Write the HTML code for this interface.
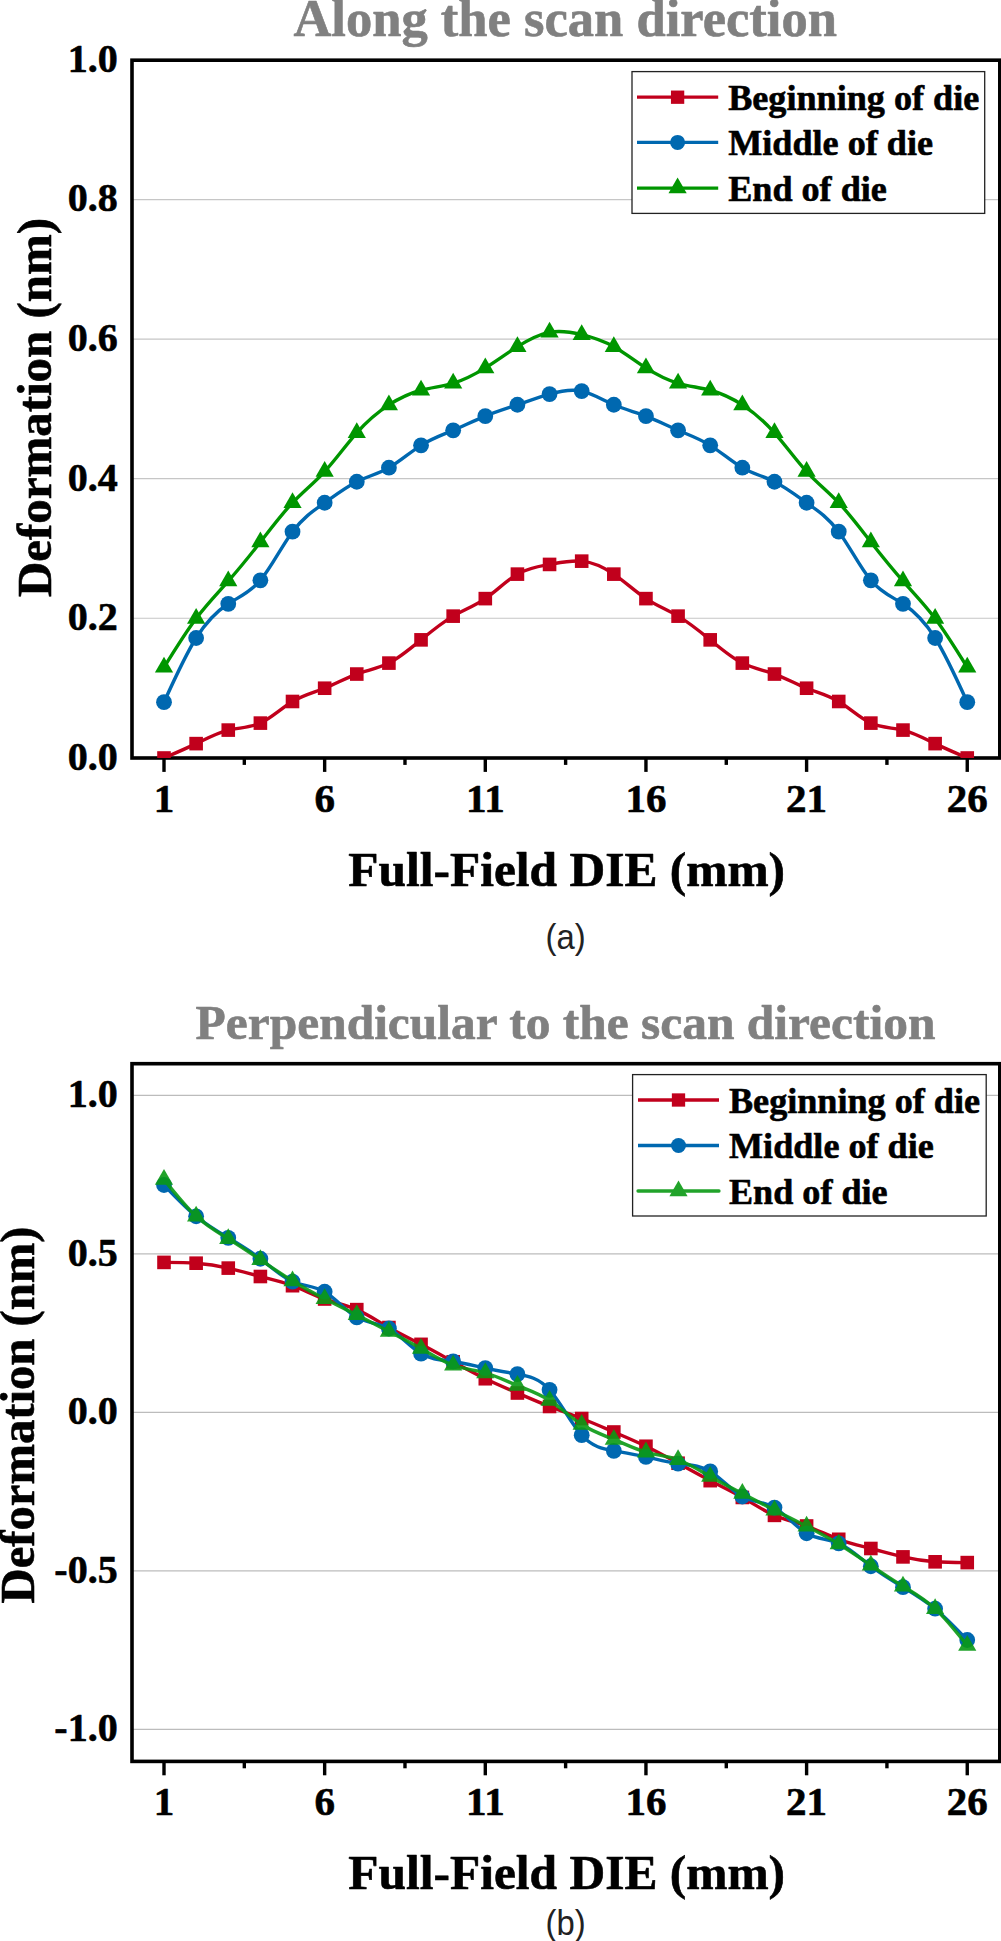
<!DOCTYPE html>
<html><head><meta charset="utf-8"><title>Deformation along and perpendicular to the scan direction</title>
<style>html,body{margin:0;padding:0;background:#fff}svg{display:block}text{white-space:pre}</style></head>
<body><svg width="1001" height="1941" viewBox="0 0 1001 1941">
<rect width="1001" height="1941" fill="#fff"/>
<clipPath id="clip1"><rect x="132.0" y="60.2" width="867.8" height="697.8"/></clipPath>
<text x="293.4" y="36.2" font-family="Liberation Serif, serif" font-weight="bold" stroke-width="0.6" stroke-linejoin="round" font-size="52.5" fill="#808080" stroke="#808080" textLength="543.5" lengthAdjust="spacingAndGlyphs">Along the scan direction</text>
<line x1="132.0" x2="999.8" y1="618.24" y2="618.24" stroke="#c6c6c6" stroke-width="1.15"/>
<line x1="132.0" x2="999.8" y1="478.68" y2="478.68" stroke="#c6c6c6" stroke-width="1.15"/>
<line x1="132.0" x2="999.8" y1="339.12" y2="339.12" stroke="#c6c6c6" stroke-width="1.15"/>
<line x1="132.0" x2="999.8" y1="199.56" y2="199.56" stroke="#c6c6c6" stroke-width="1.15"/>
<rect x="132.0" y="60.2" width="867.8" height="697.8" fill="none" stroke="#000" stroke-width="3.6"/>
<line x1="164.00" x2="164.00" y1="758.0" y2="771.9" stroke="#000" stroke-width="3.4"/>
<text x="164.00" y="811.9" font-family="Liberation Serif, serif" font-weight="bold" stroke-width="0.6" stroke-linejoin="round" font-size="41" stroke="#000" text-anchor="middle">1</text>
<line x1="324.65" x2="324.65" y1="758.0" y2="771.9" stroke="#000" stroke-width="3.4"/>
<text x="324.65" y="811.9" font-family="Liberation Serif, serif" font-weight="bold" stroke-width="0.6" stroke-linejoin="round" font-size="41" stroke="#000" text-anchor="middle">6</text>
<line x1="485.30" x2="485.30" y1="758.0" y2="771.9" stroke="#000" stroke-width="3.4"/>
<text x="485.30" y="811.9" font-family="Liberation Serif, serif" font-weight="bold" stroke-width="0.6" stroke-linejoin="round" font-size="41" stroke="#000" text-anchor="middle">11</text>
<line x1="645.95" x2="645.95" y1="758.0" y2="771.9" stroke="#000" stroke-width="3.4"/>
<text x="645.95" y="811.9" font-family="Liberation Serif, serif" font-weight="bold" stroke-width="0.6" stroke-linejoin="round" font-size="41" stroke="#000" text-anchor="middle">16</text>
<line x1="806.60" x2="806.60" y1="758.0" y2="771.9" stroke="#000" stroke-width="3.4"/>
<text x="806.60" y="811.9" font-family="Liberation Serif, serif" font-weight="bold" stroke-width="0.6" stroke-linejoin="round" font-size="41" stroke="#000" text-anchor="middle">21</text>
<line x1="967.25" x2="967.25" y1="758.0" y2="771.9" stroke="#000" stroke-width="3.4"/>
<text x="967.25" y="811.9" font-family="Liberation Serif, serif" font-weight="bold" stroke-width="0.6" stroke-linejoin="round" font-size="41" stroke="#000" text-anchor="middle">26</text>
<line x1="244.32" x2="244.32" y1="758.0" y2="764.9" stroke="#000" stroke-width="3.4"/>
<line x1="404.98" x2="404.98" y1="758.0" y2="764.9" stroke="#000" stroke-width="3.4"/>
<line x1="565.62" x2="565.62" y1="758.0" y2="764.9" stroke="#000" stroke-width="3.4"/>
<line x1="726.28" x2="726.28" y1="758.0" y2="764.9" stroke="#000" stroke-width="3.4"/>
<line x1="886.93" x2="886.93" y1="758.0" y2="764.9" stroke="#000" stroke-width="3.4"/>
<text x="117.7" y="769.6" font-family="Liberation Serif, serif" font-weight="bold" stroke-width="0.6" stroke-linejoin="round" font-size="40" stroke="#000" text-anchor="end">0.0</text>
<text x="117.7" y="630.0" font-family="Liberation Serif, serif" font-weight="bold" stroke-width="0.6" stroke-linejoin="round" font-size="40" stroke="#000" text-anchor="end">0.2</text>
<text x="117.7" y="490.5" font-family="Liberation Serif, serif" font-weight="bold" stroke-width="0.6" stroke-linejoin="round" font-size="40" stroke="#000" text-anchor="end">0.4</text>
<text x="117.7" y="350.9" font-family="Liberation Serif, serif" font-weight="bold" stroke-width="0.6" stroke-linejoin="round" font-size="40" stroke="#000" text-anchor="end">0.6</text>
<text x="117.7" y="211.4" font-family="Liberation Serif, serif" font-weight="bold" stroke-width="0.6" stroke-linejoin="round" font-size="40" stroke="#000" text-anchor="end">0.8</text>
<text x="117.7" y="71.8" font-family="Liberation Serif, serif" font-weight="bold" stroke-width="0.6" stroke-linejoin="round" font-size="40" stroke="#000" text-anchor="end">1.0</text>
<text transform="translate(50.5,597.0) rotate(-90)" font-family="Liberation Serif, serif" font-weight="bold" stroke-width="0.6" stroke-linejoin="round" font-size="48.5" stroke="#000" textLength="379.0" lengthAdjust="spacingAndGlyphs">Deformation (nm)</text>
<text x="348.3" y="885.8" font-family="Liberation Serif, serif" font-weight="bold" stroke-width="0.6" stroke-linejoin="round" font-size="48.5" stroke="#000" textLength="436.8" lengthAdjust="spacingAndGlyphs">Full-Field DIE (mm)</text>
<g clip-path="url(#clip1)">
<g fill="#c1001c" stroke="none"><path d="M164.00,758.00C174.71,753.40 185.42,748.80 196.13,743.63C206.84,738.45 217.55,732.70 228.26,730.09C238.97,727.48 249.68,728.00 260.39,723.11C271.10,718.22 281.81,707.91 292.52,701.48C303.23,695.05 313.94,692.50 324.65,688.22C335.36,683.94 346.07,677.92 356.78,674.05C367.49,670.19 378.20,668.47 388.91,663.10C399.62,657.73 410.33,648.70 421.04,639.86C431.75,631.03 442.46,622.39 453.17,616.14C463.88,609.88 474.59,606.01 485.30,598.62C496.01,591.24 506.72,580.34 517.43,574.13C528.14,567.92 538.85,566.39 549.56,564.43C560.27,562.47 570.98,560.07 581.69,561.15C592.40,562.23 603.11,566.80 613.82,574.13C624.53,581.45 635.24,591.54 645.95,598.62C656.66,605.71 667.37,609.80 678.08,616.14C688.79,622.47 699.50,631.05 710.21,639.86C720.92,648.67 731.63,657.72 742.34,663.10C753.05,668.48 763.76,670.19 774.47,674.05C785.18,677.92 795.89,683.94 806.60,688.22C817.31,692.50 828.02,695.05 838.73,701.48C849.44,707.91 860.15,718.22 870.86,723.11C881.57,728.00 892.28,727.48 902.99,730.09C913.70,732.70 924.41,738.45 935.12,743.63C945.83,748.80 956.54,753.40 967.25,758.00" fill="none" stroke="#c1001c" stroke-width="3.4" stroke-linejoin="round"/><rect x="157.20" y="751.20" width="13.6" height="13.6"/><rect x="189.33" y="736.83" width="13.6" height="13.6"/><rect x="221.46" y="723.29" width="13.6" height="13.6"/><rect x="253.59" y="716.31" width="13.6" height="13.6"/><rect x="285.72" y="694.68" width="13.6" height="13.6"/><rect x="317.85" y="681.42" width="13.6" height="13.6"/><rect x="349.98" y="667.25" width="13.6" height="13.6"/><rect x="382.11" y="656.30" width="13.6" height="13.6"/><rect x="414.24" y="633.06" width="13.6" height="13.6"/><rect x="446.37" y="609.34" width="13.6" height="13.6"/><rect x="478.50" y="591.82" width="13.6" height="13.6"/><rect x="510.63" y="567.33" width="13.6" height="13.6"/><rect x="542.76" y="557.63" width="13.6" height="13.6"/><rect x="574.89" y="554.35" width="13.6" height="13.6"/><rect x="607.02" y="567.33" width="13.6" height="13.6"/><rect x="639.15" y="591.82" width="13.6" height="13.6"/><rect x="671.28" y="609.34" width="13.6" height="13.6"/><rect x="703.41" y="633.06" width="13.6" height="13.6"/><rect x="735.54" y="656.30" width="13.6" height="13.6"/><rect x="767.67" y="667.25" width="13.6" height="13.6"/><rect x="799.80" y="681.42" width="13.6" height="13.6"/><rect x="831.93" y="694.68" width="13.6" height="13.6"/><rect x="864.06" y="716.31" width="13.6" height="13.6"/><rect x="896.19" y="723.29" width="13.6" height="13.6"/><rect x="928.32" y="736.83" width="13.6" height="13.6"/><rect x="960.45" y="751.20" width="13.6" height="13.6"/></g>
<g fill="#0068b0" stroke="none"><path d="M164.00,702.18C174.71,678.55 185.42,654.92 196.13,637.98C206.84,621.04 217.55,610.79 228.26,603.79C238.97,596.78 249.68,593.03 260.39,580.34C271.10,567.65 281.81,546.04 292.52,531.70C303.23,517.37 313.94,510.32 324.65,502.74C335.36,495.17 346.07,487.08 356.78,481.74C367.49,476.40 378.20,473.81 388.91,467.72C399.62,461.62 410.33,452.00 421.04,445.32C431.75,438.63 442.46,434.87 453.17,430.31C463.88,425.76 474.59,420.41 485.30,416.08C496.01,411.74 506.72,408.42 517.43,404.77C528.14,401.13 538.85,397.17 549.56,394.10C560.27,391.02 570.98,388.82 581.69,391.10C592.40,393.37 603.11,400.11 613.82,404.77C624.53,409.43 635.24,412.02 645.95,416.08C656.66,420.14 667.37,425.69 678.08,430.31C688.79,434.94 699.50,438.65 710.21,445.32C720.92,451.98 731.63,461.61 742.34,467.72C753.05,473.82 763.76,476.40 774.47,481.74C785.18,487.08 795.89,495.17 806.60,502.74C817.31,510.32 828.02,517.37 838.73,531.70C849.44,546.04 860.15,567.65 870.86,580.34C881.57,593.03 892.28,596.78 902.99,603.79C913.70,610.79 924.41,621.04 935.12,637.98C945.83,654.92 956.54,678.55 967.25,702.18" fill="none" stroke="#0068b0" stroke-width="3.4" stroke-linejoin="round"/><circle cx="164.00" cy="702.18" r="7.9"/><circle cx="196.13" cy="637.98" r="7.9"/><circle cx="228.26" cy="603.79" r="7.9"/><circle cx="260.39" cy="580.34" r="7.9"/><circle cx="292.52" cy="531.70" r="7.9"/><circle cx="324.65" cy="502.74" r="7.9"/><circle cx="356.78" cy="481.74" r="7.9"/><circle cx="388.91" cy="467.72" r="7.9"/><circle cx="421.04" cy="445.32" r="7.9"/><circle cx="453.17" cy="430.31" r="7.9"/><circle cx="485.30" cy="416.08" r="7.9"/><circle cx="517.43" cy="404.77" r="7.9"/><circle cx="549.56" cy="394.10" r="7.9"/><circle cx="581.69" cy="391.10" r="7.9"/><circle cx="613.82" cy="404.77" r="7.9"/><circle cx="645.95" cy="416.08" r="7.9"/><circle cx="678.08" cy="430.31" r="7.9"/><circle cx="710.21" cy="445.32" r="7.9"/><circle cx="742.34" cy="467.72" r="7.9"/><circle cx="774.47" cy="481.74" r="7.9"/><circle cx="806.60" cy="502.74" r="7.9"/><circle cx="838.73" cy="531.70" r="7.9"/><circle cx="870.86" cy="580.34" r="7.9"/><circle cx="902.99" cy="603.79" r="7.9"/><circle cx="935.12" cy="637.98" r="7.9"/><circle cx="967.25" cy="702.18" r="7.9"/></g>
<g fill="#009600" stroke="none"><path d="M164.00,667.29C174.71,649.95 185.42,632.62 196.13,618.44C206.84,604.26 217.55,593.23 228.26,581.11C238.97,568.99 249.68,555.77 260.39,542.03C271.10,528.29 281.81,514.01 292.52,502.74C303.23,491.48 313.94,483.21 324.65,471.55C335.36,459.89 346.07,444.84 356.78,432.83C367.49,420.81 378.20,411.83 388.91,404.91C399.62,398.00 410.33,393.14 421.04,390.26C431.75,387.38 442.46,386.47 453.17,383.28C463.88,380.09 474.59,374.61 485.30,367.93C496.01,361.25 506.72,353.38 517.43,346.65C528.14,339.91 538.85,334.30 549.56,332.34C560.27,330.38 570.98,332.07 581.69,334.64C592.40,337.22 603.11,340.69 613.82,346.65C624.53,352.60 635.24,361.04 645.95,367.93C656.66,374.82 667.37,380.14 678.08,383.28C688.79,386.42 699.50,387.36 710.21,390.26C720.92,393.15 731.63,398.00 742.34,404.91C753.05,411.83 763.76,420.81 774.47,432.83C785.18,444.84 795.89,459.89 806.60,471.55C817.31,483.21 828.02,491.48 838.73,502.74C849.44,514.01 860.15,528.29 870.86,542.03C881.57,555.77 892.28,568.99 902.99,581.11C913.70,593.23 924.41,604.26 935.12,618.44C945.83,632.62 956.54,649.95 967.25,667.29" fill="none" stroke="#009600" stroke-width="3.4" stroke-linejoin="round"/><path d="M164.00,656.78L173.10,672.54L154.90,672.54Z"/><path d="M196.13,607.93L205.23,623.69L187.03,623.69Z"/><path d="M228.26,570.60L237.36,586.36L219.16,586.36Z"/><path d="M260.39,531.52L269.49,547.28L251.29,547.28Z"/><path d="M292.52,492.24L301.62,508.00L283.42,508.00Z"/><path d="M324.65,461.05L333.75,476.81L315.55,476.81Z"/><path d="M356.78,422.32L365.88,438.08L347.68,438.08Z"/><path d="M388.91,394.41L398.01,410.17L379.81,410.17Z"/><path d="M421.04,379.75L430.14,395.51L411.94,395.51Z"/><path d="M453.17,372.77L462.27,388.54L444.07,388.54Z"/><path d="M485.30,357.42L494.40,373.18L476.20,373.18Z"/><path d="M517.43,336.14L526.53,351.90L508.33,351.90Z"/><path d="M549.56,321.83L558.66,337.60L540.46,337.60Z"/><path d="M581.69,324.14L590.79,339.90L572.59,339.90Z"/><path d="M613.82,336.14L622.92,351.90L604.72,351.90Z"/><path d="M645.95,357.42L655.05,373.18L636.85,373.18Z"/><path d="M678.08,372.77L687.18,388.54L668.98,388.54Z"/><path d="M710.21,379.75L719.31,395.51L701.11,395.51Z"/><path d="M742.34,394.41L751.44,410.17L733.24,410.17Z"/><path d="M774.47,422.32L783.57,438.08L765.37,438.08Z"/><path d="M806.60,461.05L815.70,476.81L797.50,476.81Z"/><path d="M838.73,492.24L847.83,508.00L829.63,508.00Z"/><path d="M870.86,531.52L879.96,547.28L861.76,547.28Z"/><path d="M902.99,570.60L912.09,586.36L893.89,586.36Z"/><path d="M935.12,607.93L944.22,623.69L926.02,623.69Z"/><path d="M967.25,656.78L976.35,672.54L958.15,672.54Z"/></g>
</g>
<rect x="632.0" y="71.6" width="352.70000000000005" height="141.8" fill="#fff" stroke="#222" stroke-width="1.3"/>
<g fill="#c1001c"><line x1="637.0" x2="718.2" y1="97.2" y2="97.2" stroke="#c1001c" stroke-width="3.3"/><rect x="670.95" y="90.55" width="13.3" height="13.3"/></g>
<text x="728.2" y="109.5" font-family="Liberation Serif, serif" font-weight="bold" stroke-width="0.6" stroke-linejoin="round" font-size="36.15" stroke="#000">Beginning of die</text>
<g fill="#0068b0"><line x1="637.0" x2="718.2" y1="142.4" y2="142.4" stroke="#0068b0" stroke-width="3.3"/><circle cx="677.60" cy="142.40" r="7.5"/></g>
<text x="728.2" y="155.0" font-family="Liberation Serif, serif" font-weight="bold" stroke-width="0.6" stroke-linejoin="round" font-size="36.15" stroke="#000">Middle of die</text>
<g fill="#009600"><line x1="637.0" x2="718.2" y1="188.1" y2="188.1" stroke="#009600" stroke-width="3.3"/><path d="M677.60,177.59L686.70,193.35L668.50,193.35Z"/></g>
<text x="728.2" y="200.6" font-family="Liberation Serif, serif" font-weight="bold" stroke-width="0.6" stroke-linejoin="round" font-size="36.15" stroke="#000">End of die</text>
<text x="545.6" y="948.6" font-family="Liberation Sans, sans-serif" font-size="34.8" fill="#222" textLength="40.1" lengthAdjust="spacingAndGlyphs">(a)</text>
<clipPath id="clip2"><rect x="132.0" y="1063.7" width="867.8" height="697.7"/></clipPath>
<text x="195.6" y="1039.2" font-family="Liberation Serif, serif" font-weight="bold" stroke-width="0.6" stroke-linejoin="round" font-size="47.5" fill="#808080" stroke="#808080" textLength="739.8" lengthAdjust="spacingAndGlyphs">Perpendicular to the scan direction</text>
<line x1="132.0" x2="999.8" y1="1729.40" y2="1729.40" stroke="#bcbcbc" stroke-width="1.2"/>
<line x1="132.0" x2="999.8" y1="1570.90" y2="1570.90" stroke="#bcbcbc" stroke-width="1.2"/>
<line x1="132.0" x2="999.8" y1="1412.40" y2="1412.40" stroke="#bcbcbc" stroke-width="1.2"/>
<line x1="132.0" x2="999.8" y1="1253.90" y2="1253.90" stroke="#bcbcbc" stroke-width="1.2"/>
<line x1="132.0" x2="999.8" y1="1095.40" y2="1095.40" stroke="#bcbcbc" stroke-width="1.2"/>
<rect x="132.0" y="1063.7" width="867.8" height="697.7" fill="none" stroke="#000" stroke-width="3.6"/>
<line x1="164.00" x2="164.00" y1="1761.4" y2="1775.3000000000002" stroke="#000" stroke-width="3.4"/>
<text x="164.00" y="1815.3" font-family="Liberation Serif, serif" font-weight="bold" stroke-width="0.6" stroke-linejoin="round" font-size="41" stroke="#000" text-anchor="middle">1</text>
<line x1="324.65" x2="324.65" y1="1761.4" y2="1775.3000000000002" stroke="#000" stroke-width="3.4"/>
<text x="324.65" y="1815.3" font-family="Liberation Serif, serif" font-weight="bold" stroke-width="0.6" stroke-linejoin="round" font-size="41" stroke="#000" text-anchor="middle">6</text>
<line x1="485.30" x2="485.30" y1="1761.4" y2="1775.3000000000002" stroke="#000" stroke-width="3.4"/>
<text x="485.30" y="1815.3" font-family="Liberation Serif, serif" font-weight="bold" stroke-width="0.6" stroke-linejoin="round" font-size="41" stroke="#000" text-anchor="middle">11</text>
<line x1="645.95" x2="645.95" y1="1761.4" y2="1775.3000000000002" stroke="#000" stroke-width="3.4"/>
<text x="645.95" y="1815.3" font-family="Liberation Serif, serif" font-weight="bold" stroke-width="0.6" stroke-linejoin="round" font-size="41" stroke="#000" text-anchor="middle">16</text>
<line x1="806.60" x2="806.60" y1="1761.4" y2="1775.3000000000002" stroke="#000" stroke-width="3.4"/>
<text x="806.60" y="1815.3" font-family="Liberation Serif, serif" font-weight="bold" stroke-width="0.6" stroke-linejoin="round" font-size="41" stroke="#000" text-anchor="middle">21</text>
<line x1="967.25" x2="967.25" y1="1761.4" y2="1775.3000000000002" stroke="#000" stroke-width="3.4"/>
<text x="967.25" y="1815.3" font-family="Liberation Serif, serif" font-weight="bold" stroke-width="0.6" stroke-linejoin="round" font-size="41" stroke="#000" text-anchor="middle">26</text>
<line x1="244.32" x2="244.32" y1="1761.4" y2="1768.3000000000002" stroke="#000" stroke-width="3.4"/>
<line x1="404.98" x2="404.98" y1="1761.4" y2="1768.3000000000002" stroke="#000" stroke-width="3.4"/>
<line x1="565.62" x2="565.62" y1="1761.4" y2="1768.3000000000002" stroke="#000" stroke-width="3.4"/>
<line x1="726.28" x2="726.28" y1="1761.4" y2="1768.3000000000002" stroke="#000" stroke-width="3.4"/>
<line x1="886.93" x2="886.93" y1="1761.4" y2="1768.3000000000002" stroke="#000" stroke-width="3.4"/>
<text x="117.7" y="1741.1" font-family="Liberation Serif, serif" font-weight="bold" stroke-width="0.6" stroke-linejoin="round" font-size="40" stroke="#000" text-anchor="end">-1.0</text>
<text x="117.7" y="1582.6" font-family="Liberation Serif, serif" font-weight="bold" stroke-width="0.6" stroke-linejoin="round" font-size="40" stroke="#000" text-anchor="end">-0.5</text>
<text x="117.7" y="1424.1" font-family="Liberation Serif, serif" font-weight="bold" stroke-width="0.6" stroke-linejoin="round" font-size="40" stroke="#000" text-anchor="end">0.0</text>
<text x="117.7" y="1265.6" font-family="Liberation Serif, serif" font-weight="bold" stroke-width="0.6" stroke-linejoin="round" font-size="40" stroke="#000" text-anchor="end">0.5</text>
<text x="117.7" y="1107.1" font-family="Liberation Serif, serif" font-weight="bold" stroke-width="0.6" stroke-linejoin="round" font-size="40" stroke="#000" text-anchor="end">1.0</text>
<text transform="translate(34.4,1603.4) rotate(-90)" font-family="Liberation Serif, serif" font-weight="bold" stroke-width="0.6" stroke-linejoin="round" font-size="48.5" stroke="#000" textLength="376.8" lengthAdjust="spacingAndGlyphs">Deformation (nm)</text>
<text x="348.3" y="1889.2" font-family="Liberation Serif, serif" font-weight="bold" stroke-width="0.6" stroke-linejoin="round" font-size="48.5" stroke="#000" textLength="436.8" lengthAdjust="spacingAndGlyphs">Full-Field DIE (mm)</text>
<g clip-path="url(#clip2)">
<g fill="#c1001c" stroke="none"><path d="M164.00,1262.40C174.71,1262.38 185.42,1262.37 196.13,1263.19C206.84,1264.02 217.55,1265.68 228.26,1268.11C238.97,1270.53 249.68,1273.71 260.39,1276.51C271.10,1279.31 281.81,1281.73 292.52,1285.70C303.23,1289.67 313.94,1295.18 324.65,1299.01C335.36,1302.84 346.07,1304.99 356.78,1309.63C367.49,1314.28 378.20,1321.41 388.91,1327.54C399.62,1333.67 410.33,1338.80 421.04,1344.35C431.75,1349.89 442.46,1355.86 453.17,1361.78C463.88,1367.70 474.59,1373.56 485.30,1378.74C496.01,1383.92 506.72,1388.41 517.43,1393.00C528.14,1397.60 538.85,1402.29 549.56,1406.48C560.27,1410.66 570.98,1414.34 581.69,1418.52C592.40,1422.71 603.11,1427.40 613.82,1432.00C624.53,1436.59 635.24,1441.08 645.95,1446.26C656.66,1451.44 667.37,1457.30 678.08,1463.22C688.79,1469.14 699.50,1475.11 710.21,1480.65C720.92,1486.20 731.63,1491.33 742.34,1497.46C753.05,1503.59 763.76,1510.72 774.47,1515.37C785.18,1520.01 795.89,1522.16 806.60,1525.99C817.31,1529.82 828.02,1535.33 838.73,1539.30C849.44,1543.27 860.15,1545.69 870.86,1548.49C881.57,1551.29 892.28,1554.47 902.99,1556.89C913.70,1559.32 924.41,1560.98 935.12,1561.81C945.83,1562.63 956.54,1562.62 967.25,1562.60" fill="none" stroke="#c1001c" stroke-width="3.4" stroke-linejoin="round"/><rect x="157.20" y="1255.60" width="13.6" height="13.6"/><rect x="189.33" y="1256.39" width="13.6" height="13.6"/><rect x="221.46" y="1261.31" width="13.6" height="13.6"/><rect x="253.59" y="1269.71" width="13.6" height="13.6"/><rect x="285.72" y="1278.90" width="13.6" height="13.6"/><rect x="317.85" y="1292.21" width="13.6" height="13.6"/><rect x="349.98" y="1302.83" width="13.6" height="13.6"/><rect x="382.11" y="1320.74" width="13.6" height="13.6"/><rect x="414.24" y="1337.55" width="13.6" height="13.6"/><rect x="446.37" y="1354.98" width="13.6" height="13.6"/><rect x="478.50" y="1371.94" width="13.6" height="13.6"/><rect x="510.63" y="1386.20" width="13.6" height="13.6"/><rect x="542.76" y="1399.68" width="13.6" height="13.6"/><rect x="574.89" y="1411.72" width="13.6" height="13.6"/><rect x="607.02" y="1425.20" width="13.6" height="13.6"/><rect x="639.15" y="1439.46" width="13.6" height="13.6"/><rect x="671.28" y="1456.42" width="13.6" height="13.6"/><rect x="703.41" y="1473.86" width="13.6" height="13.6"/><rect x="735.54" y="1490.66" width="13.6" height="13.6"/><rect x="767.67" y="1508.57" width="13.6" height="13.6"/><rect x="799.80" y="1519.19" width="13.6" height="13.6"/><rect x="831.93" y="1532.50" width="13.6" height="13.6"/><rect x="864.06" y="1541.69" width="13.6" height="13.6"/><rect x="896.19" y="1550.09" width="13.6" height="13.6"/><rect x="928.32" y="1555.01" width="13.6" height="13.6"/><rect x="960.45" y="1555.80" width="13.6" height="13.6"/></g>
<g fill="#0068b0" stroke="none"><path d="M164.00,1184.99C174.71,1196.23 185.42,1207.47 196.13,1216.28C206.84,1225.09 217.55,1231.46 228.26,1237.83C238.97,1244.20 249.68,1250.57 260.39,1258.76C271.10,1266.94 281.81,1276.95 292.52,1281.58C303.23,1286.21 313.94,1285.46 324.65,1291.72C335.36,1297.98 346.07,1311.25 356.78,1317.40C367.49,1323.55 378.20,1322.60 388.91,1328.49C399.62,1334.39 410.33,1347.14 421.04,1353.54C431.75,1359.94 442.46,1360.00 453.17,1361.46C463.88,1362.92 474.59,1365.79 485.30,1368.12C496.01,1370.45 506.72,1372.25 517.43,1374.14C528.14,1376.03 538.85,1378.01 549.56,1389.83C560.27,1401.66 570.98,1423.34 581.69,1435.17C592.40,1446.99 603.11,1448.97 613.82,1450.86C624.53,1452.75 635.24,1454.55 645.95,1456.88C656.66,1459.21 667.37,1462.08 678.08,1463.54C688.79,1465.00 699.50,1465.06 710.21,1471.46C720.92,1477.86 731.63,1490.61 742.34,1496.51C753.05,1502.40 763.76,1501.45 774.47,1507.60C785.18,1513.75 795.89,1527.02 806.60,1533.28C817.31,1539.54 828.02,1538.79 838.73,1543.42C849.44,1548.05 860.15,1558.06 870.86,1566.24C881.57,1574.43 892.28,1580.80 902.99,1587.17C913.70,1593.54 924.41,1599.91 935.12,1608.72C945.83,1617.53 956.54,1628.77 967.25,1640.01" fill="none" stroke="#0068b0" stroke-width="3.4" stroke-linejoin="round"/><circle cx="164.00" cy="1184.99" r="7.9"/><circle cx="196.13" cy="1216.28" r="7.9"/><circle cx="228.26" cy="1237.83" r="7.9"/><circle cx="260.39" cy="1258.76" r="7.9"/><circle cx="292.52" cy="1281.58" r="7.9"/><circle cx="324.65" cy="1291.72" r="7.9"/><circle cx="356.78" cy="1317.40" r="7.9"/><circle cx="388.91" cy="1328.49" r="7.9"/><circle cx="421.04" cy="1353.54" r="7.9"/><circle cx="453.17" cy="1361.46" r="7.9"/><circle cx="485.30" cy="1368.12" r="7.9"/><circle cx="517.43" cy="1374.14" r="7.9"/><circle cx="549.56" cy="1389.83" r="7.9"/><circle cx="581.69" cy="1435.17" r="7.9"/><circle cx="613.82" cy="1450.86" r="7.9"/><circle cx="645.95" cy="1456.88" r="7.9"/><circle cx="678.08" cy="1463.54" r="7.9"/><circle cx="710.21" cy="1471.46" r="7.9"/><circle cx="742.34" cy="1496.51" r="7.9"/><circle cx="774.47" cy="1507.60" r="7.9"/><circle cx="806.60" cy="1533.28" r="7.9"/><circle cx="838.73" cy="1543.42" r="7.9"/><circle cx="870.86" cy="1566.24" r="7.9"/><circle cx="902.99" cy="1587.17" r="7.9"/><circle cx="935.12" cy="1608.72" r="7.9"/><circle cx="967.25" cy="1640.01" r="7.9"/></g>
<g fill="#0a9a14" stroke="none" opacity="0.9"><path d="M164.00,1179.51C174.71,1192.99 185.42,1206.48 196.13,1216.28C206.84,1226.08 217.55,1232.19 228.26,1238.78C238.97,1245.38 249.68,1252.46 260.39,1259.71C271.10,1266.96 281.81,1274.38 292.52,1280.94C303.23,1287.51 313.94,1293.22 324.65,1298.70C335.36,1304.17 346.07,1309.41 356.78,1314.86C367.49,1320.32 378.20,1326.00 388.91,1331.51C399.62,1337.02 410.33,1342.36 421.04,1348.47C431.75,1354.57 442.46,1361.44 453.17,1365.27C463.88,1369.09 474.59,1369.86 485.30,1372.88C496.01,1375.89 506.72,1381.14 517.43,1385.56C528.14,1389.97 538.85,1393.54 549.56,1400.45C560.27,1407.37 570.98,1417.63 581.69,1424.55C592.40,1431.46 603.11,1435.03 613.82,1439.44C624.53,1443.86 635.24,1449.11 645.95,1452.12C656.66,1455.14 667.37,1455.91 678.08,1459.73C688.79,1463.56 699.50,1470.43 710.21,1476.53C720.92,1482.64 731.63,1487.98 742.34,1493.49C753.05,1499.00 763.76,1504.68 774.47,1510.14C785.18,1515.59 795.89,1520.83 806.60,1526.30C817.31,1531.78 828.02,1537.49 838.73,1544.06C849.44,1550.62 860.15,1558.04 870.86,1565.29C881.57,1572.54 892.28,1579.62 902.99,1586.22C913.70,1592.81 924.41,1598.92 935.12,1608.72C945.83,1618.52 956.54,1632.01 967.25,1645.49" fill="none" stroke="#0a9a14" stroke-width="3.4" stroke-linejoin="round"/><path d="M164.00,1169.00L173.10,1184.76L154.90,1184.76Z"/><path d="M196.13,1205.77L205.23,1221.53L187.03,1221.53Z"/><path d="M228.26,1228.28L237.36,1244.04L219.16,1244.04Z"/><path d="M260.39,1249.20L269.49,1264.96L251.29,1264.96Z"/><path d="M292.52,1270.44L301.62,1286.20L283.42,1286.20Z"/><path d="M324.65,1288.19L333.75,1303.95L315.55,1303.95Z"/><path d="M356.78,1304.36L365.88,1320.12L347.68,1320.12Z"/><path d="M388.91,1321.00L398.01,1336.76L379.81,1336.76Z"/><path d="M421.04,1337.96L430.14,1353.72L411.94,1353.72Z"/><path d="M453.17,1354.76L462.27,1370.52L444.07,1370.52Z"/><path d="M485.30,1362.37L494.40,1378.13L476.20,1378.13Z"/><path d="M517.43,1375.05L526.53,1390.81L508.33,1390.81Z"/><path d="M549.56,1389.95L558.66,1405.71L540.46,1405.71Z"/><path d="M581.69,1414.04L590.79,1429.80L572.59,1429.80Z"/><path d="M613.82,1428.94L622.92,1444.70L604.72,1444.70Z"/><path d="M645.95,1441.62L655.05,1457.38L636.85,1457.38Z"/><path d="M678.08,1449.23L687.18,1464.99L668.98,1464.99Z"/><path d="M710.21,1466.03L719.31,1481.79L701.11,1481.79Z"/><path d="M742.34,1482.99L751.44,1498.75L733.24,1498.75Z"/><path d="M774.47,1499.63L783.57,1515.39L765.37,1515.39Z"/><path d="M806.60,1515.80L815.70,1531.56L797.50,1531.56Z"/><path d="M838.73,1533.55L847.83,1549.31L829.63,1549.31Z"/><path d="M870.86,1554.79L879.96,1570.55L861.76,1570.55Z"/><path d="M902.99,1575.71L912.09,1591.47L893.89,1591.47Z"/><path d="M935.12,1598.22L944.22,1613.98L926.02,1613.98Z"/><path d="M967.25,1634.99L976.35,1650.75L958.15,1650.75Z"/></g>
</g>
<rect x="632.6" y="1074.6" width="353.6" height="141.4000000000001" fill="#fff" stroke="#222" stroke-width="1.3"/>
<g fill="#c1001c"><line x1="638.0" x2="719.0" y1="1100.0" y2="1100.0" stroke="#c1001c" stroke-width="3.3"/><rect x="671.85" y="1093.35" width="13.3" height="13.3"/></g>
<text x="729.0" y="1113.0" font-family="Liberation Serif, serif" font-weight="bold" stroke-width="0.6" stroke-linejoin="round" font-size="36.15" stroke="#000">Beginning of die</text>
<g fill="#0068b0"><line x1="638.0" x2="719.0" y1="1145.5" y2="1145.5" stroke="#0068b0" stroke-width="3.3"/><circle cx="678.50" cy="1145.50" r="7.5"/></g>
<text x="729.0" y="1158.4" font-family="Liberation Serif, serif" font-weight="bold" stroke-width="0.6" stroke-linejoin="round" font-size="36.15" stroke="#000">Middle of die</text>
<g fill="#0a9a14" opacity="0.9"><line x1="638.0" x2="719.0" y1="1191.0" y2="1191.0" stroke="#0a9a14" stroke-width="3.3" stroke-linecap="round"/><path d="M678.50,1180.49L687.60,1196.25L669.40,1196.25Z"/></g>
<text x="729.0" y="1203.6" font-family="Liberation Serif, serif" font-weight="bold" stroke-width="0.6" stroke-linejoin="round" font-size="36.15" stroke="#000">End of die</text>
<text x="545.6" y="1934.5" font-family="Liberation Sans, sans-serif" font-size="34.8" fill="#222" textLength="40.1" lengthAdjust="spacingAndGlyphs">(b)</text>
</svg></body></html>
